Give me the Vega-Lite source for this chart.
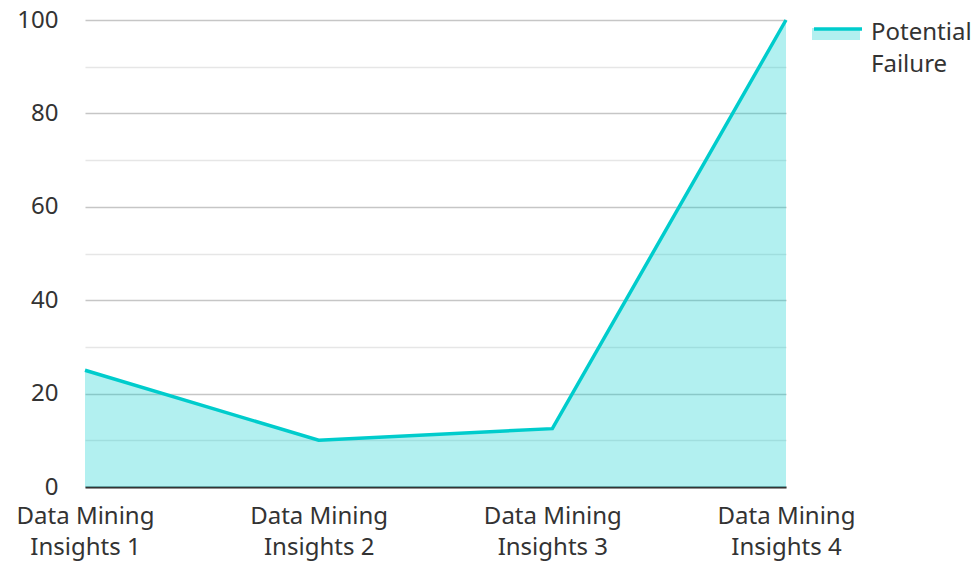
{
  "$schema": "https://vega.github.io/schema/vega-lite/v6.json",
  "width": 701,
  "height": 467,
  "autosize": {"type": "none"},
  "padding": {"left": 85, "top": 20, "right": 190, "bottom": 75},
  "background": "white",
  "config": {
    "view": {"stroke": null},
    "font": "Noto Sans",
    "axis": {"labelFont": "Noto Sans", "labelFontSize": 24, "labelColor": "#333333"},
    "legend": {"labelFont": "Noto Sans", "labelFontSize": 24, "labelColor": "#333333"}
  },
  "data": {
    "values": [
      {"category": "Data Mining Insights 1", "value": 25, "series": "Potential Failure"},
      {"category": "Data Mining Insights 2", "value": 10, "series": "Potential Failure"},
      {"category": "Data Mining Insights 3", "value": 12.5, "series": "Potential Failure"},
      {"category": "Data Mining Insights 4", "value": 100, "series": "Potential Failure"}
    ]
  },
  "encoding": {
    "x": {
      "field": "category",
      "type": "ordinal",
      "scale": {"type": "point", "padding": 0},
      "axis": {
        "title": null,
        "labelAngle": 0,
        "ticks": false,
        "grid": false,
        "domainColor": "#333333",
        "domainWidth": 2,
        "labelPadding": 17,
        "labelLineHeight": 31,
        "labelExpr": "['Data Mining', slice(datum.label, 12)]"
      }
    },
    "y": {
      "field": "value",
      "type": "quantitative",
      "scale": {"domain": [0, 100], "nice": false},
      "axis": {
        "title": null,
        "values": [0, 10, 20, 30, 40, 50, 60, 70, 80, 90, 100],
        "labelExpr": "datum.value % 20 === 0 ? datum.label : ''",
        "ticks": false,
        "domain": false,
        "labelPadding": 27,
        "gridColor": {"condition": {"test": "datum.value % 20 === 0", "value": "#c6c6c6"}, "value": "#e6e6e6"},
        "gridWidth": 1.5
      }
    }
  },
  "layer": [
    {
      "mark": {"type": "area", "fillOpacity": 0.3},
      "encoding": {
        "fill": {
          "field": "series",
          "type": "nominal",
          "scale": {"range": ["#00cccc"]},
          "legend": {
            "title": null,
            "orient": "none",
            "legendX": 727,
            "legendY": -10,
            "symbolType": "M-1,-0.25H1V0.25H-1Z",
            "symbolSize": 2304,
            "symbolOpacity": 0.3,
            "symbolStrokeWidth": 0,
            "labelExpr": "''",
            "zindex": 0
          }
        }
      }
    },
    {
      "mark": {"type": "line", "strokeWidth": 3.5},
      "encoding": {
        "stroke": {
          "field": "series",
          "type": "nominal",
          "scale": {"range": ["#00cccc"]},
          "legend": {
            "title": null,
            "orient": "none",
            "legendX": 727,
            "legendY": -17,
            "symbolType": "stroke",
            "symbolSize": 2304,
            "symbolStrokeWidth": 3.5,
            "labelOffset": 7,
            "labelBaseline": "top",
            "labelExpr": "['Potential', 'Failure']",
            "zindex": 1,
            "encode": {"labels": {"update": {"lineHeight": {"value": 32}, "dy": {"value": -8}}}}
          }
        }
      }
    }
  ]
}
